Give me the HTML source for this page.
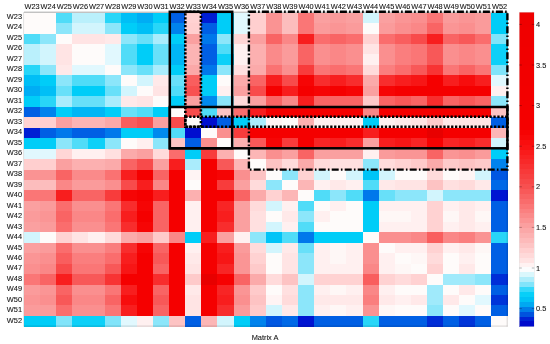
<!DOCTYPE html>
<html><head><meta charset="utf-8"><style>
html,body{margin:0;padding:0;background:#fff;width:550px;height:344px;overflow:hidden}
svg{display:block}
text{font-family:"Liberation Sans",Arial,sans-serif;fill:#111;stroke:#111;stroke-width:0.08px}
</style></head><body>
<svg width="550" height="344" viewBox="0 0 550 344">
<rect width="550" height="344" fill="#fff"/>
<g>
<g shape-rendering="crispEdges">
<rect x="24.00" y="12.60" width="16.52" height="10.86" fill="#fefbfa"/>
<rect x="40.12" y="12.60" width="16.52" height="10.86" fill="#fefbfa"/>
<rect x="56.24" y="12.60" width="16.52" height="10.86" fill="#50dcf8"/>
<rect x="72.36" y="12.60" width="16.52" height="10.86" fill="#baf0fc"/>
<rect x="88.48" y="12.60" width="16.52" height="10.86" fill="#baf0fc"/>
<rect x="104.60" y="12.60" width="16.52" height="10.86" fill="#28d6f8"/>
<rect x="120.72" y="12.60" width="16.52" height="10.86" fill="#00bff6"/>
<rect x="136.84" y="12.60" width="16.52" height="10.86" fill="#00adf4"/>
<rect x="152.96" y="12.60" width="16.52" height="10.86" fill="#00cdf8"/>
<rect x="169.08" y="12.60" width="16.52" height="10.86" fill="#005fe4"/>
<rect x="185.20" y="12.60" width="16.52" height="10.86" fill="#ffd2d2"/>
<rect x="201.32" y="12.60" width="16.52" height="10.86" fill="#001ed4"/>
<rect x="217.44" y="12.60" width="16.52" height="10.86" fill="#00cdf8"/>
<rect x="233.56" y="12.60" width="16.52" height="10.86" fill="#e1f8fe"/>
<rect x="249.68" y="12.60" width="16.52" height="10.86" fill="#ffcfcf"/>
<rect x="265.80" y="12.60" width="16.52" height="10.86" fill="#fa9393"/>
<rect x="281.92" y="12.60" width="16.52" height="10.86" fill="#fcbdbd"/>
<rect x="298.04" y="12.60" width="16.52" height="10.86" fill="#fa7676"/>
<rect x="314.16" y="12.60" width="16.52" height="10.86" fill="#faa0a0"/>
<rect x="330.28" y="12.60" width="16.52" height="10.86" fill="#fa9b9b"/>
<rect x="346.40" y="12.60" width="16.52" height="10.86" fill="#faa0a0"/>
<rect x="362.52" y="12.60" width="16.52" height="10.86" fill="#d2f5fd"/>
<rect x="378.64" y="12.60" width="16.52" height="10.86" fill="#faa0a0"/>
<rect x="394.76" y="12.60" width="16.52" height="10.86" fill="#fa9595"/>
<rect x="410.88" y="12.60" width="16.52" height="10.86" fill="#fa8f8f"/>
<rect x="427.00" y="12.60" width="16.52" height="10.86" fill="#fa7676"/>
<rect x="443.12" y="12.60" width="16.52" height="10.86" fill="#fa9b9b"/>
<rect x="459.24" y="12.60" width="16.52" height="10.86" fill="#fa9595"/>
<rect x="475.36" y="12.60" width="16.52" height="10.86" fill="#fa9b9b"/>
<rect x="491.48" y="12.60" width="16.52" height="10.86" fill="#00cdf8"/>
<rect x="24.00" y="23.06" width="16.52" height="10.86" fill="#fefbfa"/>
<rect x="40.12" y="23.06" width="16.52" height="10.86" fill="#fefbfa"/>
<rect x="56.24" y="23.06" width="16.52" height="10.86" fill="#8ce6fa"/>
<rect x="72.36" y="23.06" width="16.52" height="10.86" fill="#d2f5fd"/>
<rect x="88.48" y="23.06" width="16.52" height="10.86" fill="#d2f5fd"/>
<rect x="104.60" y="23.06" width="16.52" height="10.86" fill="#8ce6fa"/>
<rect x="120.72" y="23.06" width="16.52" height="10.86" fill="#00cdf8"/>
<rect x="136.84" y="23.06" width="16.52" height="10.86" fill="#00bff6"/>
<rect x="152.96" y="23.06" width="16.52" height="10.86" fill="#28d6f8"/>
<rect x="169.08" y="23.06" width="16.52" height="10.86" fill="#0083ed"/>
<rect x="185.20" y="23.06" width="16.52" height="10.86" fill="#ffcfcf"/>
<rect x="201.32" y="23.06" width="16.52" height="10.86" fill="#005fe4"/>
<rect x="217.44" y="23.06" width="16.52" height="10.86" fill="#00cdf8"/>
<rect x="233.56" y="23.06" width="16.52" height="10.86" fill="#e1f8fe"/>
<rect x="249.68" y="23.06" width="16.52" height="10.86" fill="#ffcfcf"/>
<rect x="265.80" y="23.06" width="16.52" height="10.86" fill="#fa9393"/>
<rect x="281.92" y="23.06" width="16.52" height="10.86" fill="#fcbdbd"/>
<rect x="298.04" y="23.06" width="16.52" height="10.86" fill="#fa7676"/>
<rect x="314.16" y="23.06" width="16.52" height="10.86" fill="#fa9b9b"/>
<rect x="330.28" y="23.06" width="16.52" height="10.86" fill="#fa9595"/>
<rect x="346.40" y="23.06" width="16.52" height="10.86" fill="#fa9b9b"/>
<rect x="362.52" y="23.06" width="16.52" height="10.86" fill="#fefbfa"/>
<rect x="378.64" y="23.06" width="16.52" height="10.86" fill="#fa9b9b"/>
<rect x="394.76" y="23.06" width="16.52" height="10.86" fill="#fa8f8f"/>
<rect x="410.88" y="23.06" width="16.52" height="10.86" fill="#fa8787"/>
<rect x="427.00" y="23.06" width="16.52" height="10.86" fill="#f96464"/>
<rect x="443.12" y="23.06" width="16.52" height="10.86" fill="#fa9595"/>
<rect x="459.24" y="23.06" width="16.52" height="10.86" fill="#fa8f8f"/>
<rect x="475.36" y="23.06" width="16.52" height="10.86" fill="#fa9b9b"/>
<rect x="491.48" y="23.06" width="16.52" height="10.86" fill="#00cdf8"/>
<rect x="24.00" y="33.52" width="16.52" height="10.86" fill="#50dcf8"/>
<rect x="40.12" y="33.52" width="16.52" height="10.86" fill="#8ce6fa"/>
<rect x="56.24" y="33.52" width="16.52" height="10.86" fill="#fefbfa"/>
<rect x="72.36" y="33.52" width="16.52" height="10.86" fill="#ffe4e4"/>
<rect x="88.48" y="33.52" width="16.52" height="10.86" fill="#ffe4e4"/>
<rect x="104.60" y="33.52" width="16.52" height="10.86" fill="#ffe9e9"/>
<rect x="120.72" y="33.52" width="16.52" height="10.86" fill="#8ce6fa"/>
<rect x="136.84" y="33.52" width="16.52" height="10.86" fill="#68e0f9"/>
<rect x="152.96" y="33.52" width="16.52" height="10.86" fill="#aaecfc"/>
<rect x="169.08" y="33.52" width="16.52" height="10.86" fill="#00cdf8"/>
<rect x="185.20" y="33.52" width="16.52" height="10.86" fill="#faa0a0"/>
<rect x="201.32" y="33.52" width="16.52" height="10.86" fill="#0078eb"/>
<rect x="217.44" y="33.52" width="16.52" height="10.86" fill="#8ce6fa"/>
<rect x="233.56" y="33.52" width="16.52" height="10.86" fill="#ffd6d6"/>
<rect x="249.68" y="33.52" width="16.52" height="10.86" fill="#faa0a0"/>
<rect x="265.80" y="33.52" width="16.52" height="10.86" fill="#f96464"/>
<rect x="281.92" y="33.52" width="16.52" height="10.86" fill="#fa8787"/>
<rect x="298.04" y="33.52" width="16.52" height="10.86" fill="#f81e1e"/>
<rect x="314.16" y="33.52" width="16.52" height="10.86" fill="#fa6d6d"/>
<rect x="330.28" y="33.52" width="16.52" height="10.86" fill="#f96464"/>
<rect x="346.40" y="33.52" width="16.52" height="10.86" fill="#fa6d6d"/>
<rect x="362.52" y="33.52" width="16.52" height="10.86" fill="#ffd2d2"/>
<rect x="378.64" y="33.52" width="16.52" height="10.86" fill="#fa6d6d"/>
<rect x="394.76" y="33.52" width="16.52" height="10.86" fill="#f95e5e"/>
<rect x="410.88" y="33.52" width="16.52" height="10.86" fill="#f84b4b"/>
<rect x="427.00" y="33.52" width="16.52" height="10.86" fill="#f81e1e"/>
<rect x="443.12" y="33.52" width="16.52" height="10.86" fill="#f96464"/>
<rect x="459.24" y="33.52" width="16.52" height="10.86" fill="#f85858"/>
<rect x="475.36" y="33.52" width="16.52" height="10.86" fill="#fa6d6d"/>
<rect x="491.48" y="33.52" width="16.52" height="10.86" fill="#80e4fa"/>
<rect x="24.00" y="43.98" width="16.52" height="10.86" fill="#baf0fc"/>
<rect x="40.12" y="43.98" width="16.52" height="10.86" fill="#d2f5fd"/>
<rect x="56.24" y="43.98" width="16.52" height="10.86" fill="#ffe4e4"/>
<rect x="72.36" y="43.98" width="16.52" height="10.86" fill="#fefbfa"/>
<rect x="88.48" y="43.98" width="16.52" height="10.86" fill="#fefbfa"/>
<rect x="104.60" y="43.98" width="16.52" height="10.86" fill="#e1f8fe"/>
<rect x="120.72" y="43.98" width="16.52" height="10.86" fill="#50dcf8"/>
<rect x="136.84" y="43.98" width="16.52" height="10.86" fill="#00cdf8"/>
<rect x="152.96" y="43.98" width="16.52" height="10.86" fill="#68e0f9"/>
<rect x="169.08" y="43.98" width="16.52" height="10.86" fill="#00b6f5"/>
<rect x="185.20" y="43.98" width="16.52" height="10.86" fill="#fcb4b4"/>
<rect x="201.32" y="43.98" width="16.52" height="10.86" fill="#005fe4"/>
<rect x="217.44" y="43.98" width="16.52" height="10.86" fill="#50dcf8"/>
<rect x="233.56" y="43.98" width="16.52" height="10.86" fill="#fff0f0"/>
<rect x="249.68" y="43.98" width="16.52" height="10.86" fill="#fcb0b0"/>
<rect x="265.80" y="43.98" width="16.52" height="10.86" fill="#fa8a8a"/>
<rect x="281.92" y="43.98" width="16.52" height="10.86" fill="#fa9b9b"/>
<rect x="298.04" y="43.98" width="16.52" height="10.86" fill="#f96464"/>
<rect x="314.16" y="43.98" width="16.52" height="10.86" fill="#fa8f8f"/>
<rect x="330.28" y="43.98" width="16.52" height="10.86" fill="#fa8787"/>
<rect x="346.40" y="43.98" width="16.52" height="10.86" fill="#fa8f8f"/>
<rect x="362.52" y="43.98" width="16.52" height="10.86" fill="#ffe4e4"/>
<rect x="378.64" y="43.98" width="16.52" height="10.86" fill="#fa8f8f"/>
<rect x="394.76" y="43.98" width="16.52" height="10.86" fill="#fa7e7e"/>
<rect x="410.88" y="43.98" width="16.52" height="10.86" fill="#fa7676"/>
<rect x="427.00" y="43.98" width="16.52" height="10.86" fill="#f85858"/>
<rect x="443.12" y="43.98" width="16.52" height="10.86" fill="#fa8f8f"/>
<rect x="459.24" y="43.98" width="16.52" height="10.86" fill="#fa8787"/>
<rect x="475.36" y="43.98" width="16.52" height="10.86" fill="#fa8f8f"/>
<rect x="491.48" y="43.98" width="16.52" height="10.86" fill="#0dd0f8"/>
<rect x="24.00" y="54.44" width="16.52" height="10.86" fill="#baf0fc"/>
<rect x="40.12" y="54.44" width="16.52" height="10.86" fill="#d2f5fd"/>
<rect x="56.24" y="54.44" width="16.52" height="10.86" fill="#ffe4e4"/>
<rect x="72.36" y="54.44" width="16.52" height="10.86" fill="#fefbfa"/>
<rect x="88.48" y="54.44" width="16.52" height="10.86" fill="#fefbfa"/>
<rect x="104.60" y="54.44" width="16.52" height="10.86" fill="#e1f8fe"/>
<rect x="120.72" y="54.44" width="16.52" height="10.86" fill="#50dcf8"/>
<rect x="136.84" y="54.44" width="16.52" height="10.86" fill="#00cdf8"/>
<rect x="152.96" y="54.44" width="16.52" height="10.86" fill="#68e0f9"/>
<rect x="169.08" y="54.44" width="16.52" height="10.86" fill="#00b6f5"/>
<rect x="185.20" y="54.44" width="16.52" height="10.86" fill="#fcb4b4"/>
<rect x="201.32" y="54.44" width="16.52" height="10.86" fill="#005fe4"/>
<rect x="217.44" y="54.44" width="16.52" height="10.86" fill="#0dd0f8"/>
<rect x="233.56" y="54.44" width="16.52" height="10.86" fill="#fff0f0"/>
<rect x="249.68" y="54.44" width="16.52" height="10.86" fill="#fcb0b0"/>
<rect x="265.80" y="54.44" width="16.52" height="10.86" fill="#fa8a8a"/>
<rect x="281.92" y="54.44" width="16.52" height="10.86" fill="#fa9b9b"/>
<rect x="298.04" y="54.44" width="16.52" height="10.86" fill="#f96464"/>
<rect x="314.16" y="54.44" width="16.52" height="10.86" fill="#fa8f8f"/>
<rect x="330.28" y="54.44" width="16.52" height="10.86" fill="#fa8787"/>
<rect x="346.40" y="54.44" width="16.52" height="10.86" fill="#fa8f8f"/>
<rect x="362.52" y="54.44" width="16.52" height="10.86" fill="#fff0f0"/>
<rect x="378.64" y="54.44" width="16.52" height="10.86" fill="#fa8f8f"/>
<rect x="394.76" y="54.44" width="16.52" height="10.86" fill="#fa7e7e"/>
<rect x="410.88" y="54.44" width="16.52" height="10.86" fill="#fa7676"/>
<rect x="427.00" y="54.44" width="16.52" height="10.86" fill="#f85858"/>
<rect x="443.12" y="54.44" width="16.52" height="10.86" fill="#fa8f8f"/>
<rect x="459.24" y="54.44" width="16.52" height="10.86" fill="#fa8787"/>
<rect x="475.36" y="54.44" width="16.52" height="10.86" fill="#fa8f8f"/>
<rect x="491.48" y="54.44" width="16.52" height="10.86" fill="#0dd0f8"/>
<rect x="24.00" y="64.90" width="16.52" height="10.86" fill="#28d6f8"/>
<rect x="40.12" y="64.90" width="16.52" height="10.86" fill="#8ce6fa"/>
<rect x="56.24" y="64.90" width="16.52" height="10.86" fill="#ffe9e9"/>
<rect x="72.36" y="64.90" width="16.52" height="10.86" fill="#e1f8fe"/>
<rect x="88.48" y="64.90" width="16.52" height="10.86" fill="#e1f8fe"/>
<rect x="104.60" y="64.90" width="16.52" height="10.86" fill="#fefbfa"/>
<rect x="120.72" y="64.90" width="16.52" height="10.86" fill="#8ce6fa"/>
<rect x="136.84" y="64.90" width="16.52" height="10.86" fill="#68e0f9"/>
<rect x="152.96" y="64.90" width="16.52" height="10.86" fill="#aaecfc"/>
<rect x="169.08" y="64.90" width="16.52" height="10.86" fill="#00cdf8"/>
<rect x="185.20" y="64.90" width="16.52" height="10.86" fill="#fba8a8"/>
<rect x="201.32" y="64.90" width="16.52" height="10.86" fill="#0078eb"/>
<rect x="217.44" y="64.90" width="16.52" height="10.86" fill="#8ce6fa"/>
<rect x="233.56" y="64.90" width="16.52" height="10.86" fill="#ffe0e0"/>
<rect x="249.68" y="64.90" width="16.52" height="10.86" fill="#fbaaaa"/>
<rect x="265.80" y="64.90" width="16.52" height="10.86" fill="#fa7272"/>
<rect x="281.92" y="64.90" width="16.52" height="10.86" fill="#fa8f8f"/>
<rect x="298.04" y="64.90" width="16.52" height="10.86" fill="#f83c3c"/>
<rect x="314.16" y="64.90" width="16.52" height="10.86" fill="#fa7676"/>
<rect x="330.28" y="64.90" width="16.52" height="10.86" fill="#fa6d6d"/>
<rect x="346.40" y="64.90" width="16.52" height="10.86" fill="#fa7676"/>
<rect x="362.52" y="64.90" width="16.52" height="10.86" fill="#ffdbdb"/>
<rect x="378.64" y="64.90" width="16.52" height="10.86" fill="#fa7e7e"/>
<rect x="394.76" y="64.90" width="16.52" height="10.86" fill="#fa6d6d"/>
<rect x="410.88" y="64.90" width="16.52" height="10.86" fill="#f85858"/>
<rect x="427.00" y="64.90" width="16.52" height="10.86" fill="#f83434"/>
<rect x="443.12" y="64.90" width="16.52" height="10.86" fill="#fa7676"/>
<rect x="459.24" y="64.90" width="16.52" height="10.86" fill="#f96464"/>
<rect x="475.36" y="64.90" width="16.52" height="10.86" fill="#fa7676"/>
<rect x="491.48" y="64.90" width="16.52" height="10.86" fill="#80e4fa"/>
<rect x="24.00" y="75.36" width="16.52" height="10.86" fill="#00bff6"/>
<rect x="40.12" y="75.36" width="16.52" height="10.86" fill="#00cdf8"/>
<rect x="56.24" y="75.36" width="16.52" height="10.86" fill="#8ce6fa"/>
<rect x="72.36" y="75.36" width="16.52" height="10.86" fill="#50dcf8"/>
<rect x="88.48" y="75.36" width="16.52" height="10.86" fill="#50dcf8"/>
<rect x="104.60" y="75.36" width="16.52" height="10.86" fill="#8ce6fa"/>
<rect x="120.72" y="75.36" width="16.52" height="10.86" fill="#fefbfa"/>
<rect x="136.84" y="75.36" width="16.52" height="10.86" fill="#d2f5fd"/>
<rect x="152.96" y="75.36" width="16.52" height="10.86" fill="#ffe9e9"/>
<rect x="169.08" y="75.36" width="16.52" height="10.86" fill="#68e0f9"/>
<rect x="185.20" y="75.36" width="16.52" height="10.86" fill="#f95e5e"/>
<rect x="201.32" y="75.36" width="16.52" height="10.86" fill="#00cdf8"/>
<rect x="217.44" y="75.36" width="16.52" height="10.86" fill="#fefbfa"/>
<rect x="233.56" y="75.36" width="16.52" height="10.86" fill="#fbaaaa"/>
<rect x="249.68" y="75.36" width="16.52" height="10.86" fill="#f96464"/>
<rect x="265.80" y="75.36" width="16.52" height="10.86" fill="#f81e1e"/>
<rect x="281.92" y="75.36" width="16.52" height="10.86" fill="#f84b4b"/>
<rect x="298.04" y="75.36" width="16.52" height="10.86" fill="#f60505"/>
<rect x="314.16" y="75.36" width="16.52" height="10.86" fill="#f82d2d"/>
<rect x="330.28" y="75.36" width="16.52" height="10.86" fill="#f81e1e"/>
<rect x="346.40" y="75.36" width="16.52" height="10.86" fill="#f82d2d"/>
<rect x="362.52" y="75.36" width="16.52" height="10.86" fill="#fbaaaa"/>
<rect x="378.64" y="75.36" width="16.52" height="10.86" fill="#f82d2d"/>
<rect x="394.76" y="75.36" width="16.52" height="10.86" fill="#f81e1e"/>
<rect x="410.88" y="75.36" width="16.52" height="10.86" fill="#f71616"/>
<rect x="427.00" y="75.36" width="16.52" height="10.86" fill="#f50000"/>
<rect x="443.12" y="75.36" width="16.52" height="10.86" fill="#f81e1e"/>
<rect x="459.24" y="75.36" width="16.52" height="10.86" fill="#f70d0d"/>
<rect x="475.36" y="75.36" width="16.52" height="10.86" fill="#f81e1e"/>
<rect x="491.48" y="75.36" width="16.52" height="10.86" fill="#e1f8fe"/>
<rect x="24.00" y="85.82" width="16.52" height="10.86" fill="#00adf4"/>
<rect x="40.12" y="85.82" width="16.52" height="10.86" fill="#00bff6"/>
<rect x="56.24" y="85.82" width="16.52" height="10.86" fill="#68e0f9"/>
<rect x="72.36" y="85.82" width="16.52" height="10.86" fill="#00cdf8"/>
<rect x="88.48" y="85.82" width="16.52" height="10.86" fill="#00cdf8"/>
<rect x="104.60" y="85.82" width="16.52" height="10.86" fill="#68e0f9"/>
<rect x="120.72" y="85.82" width="16.52" height="10.86" fill="#d2f5fd"/>
<rect x="136.84" y="85.82" width="16.52" height="10.86" fill="#fefbfa"/>
<rect x="152.96" y="85.82" width="16.52" height="10.86" fill="#ffe4e4"/>
<rect x="169.08" y="85.82" width="16.52" height="10.86" fill="#50dcf8"/>
<rect x="185.20" y="85.82" width="16.52" height="10.86" fill="#f85151"/>
<rect x="201.32" y="85.82" width="16.52" height="10.86" fill="#00cdf8"/>
<rect x="217.44" y="85.82" width="16.52" height="10.86" fill="#fff0f0"/>
<rect x="233.56" y="85.82" width="16.52" height="10.86" fill="#faa0a0"/>
<rect x="249.68" y="85.82" width="16.52" height="10.86" fill="#f84b4b"/>
<rect x="265.80" y="85.82" width="16.52" height="10.86" fill="#f50000"/>
<rect x="281.92" y="85.82" width="16.52" height="10.86" fill="#f81e1e"/>
<rect x="298.04" y="85.82" width="16.52" height="10.86" fill="#f50000"/>
<rect x="314.16" y="85.82" width="16.52" height="10.86" fill="#f60505"/>
<rect x="330.28" y="85.82" width="16.52" height="10.86" fill="#f50000"/>
<rect x="346.40" y="85.82" width="16.52" height="10.86" fill="#f60505"/>
<rect x="362.52" y="85.82" width="16.52" height="10.86" fill="#faa0a0"/>
<rect x="378.64" y="85.82" width="16.52" height="10.86" fill="#f60505"/>
<rect x="394.76" y="85.82" width="16.52" height="10.86" fill="#f50000"/>
<rect x="410.88" y="85.82" width="16.52" height="10.86" fill="#f50000"/>
<rect x="427.00" y="85.82" width="16.52" height="10.86" fill="#f50000"/>
<rect x="443.12" y="85.82" width="16.52" height="10.86" fill="#f50000"/>
<rect x="459.24" y="85.82" width="16.52" height="10.86" fill="#f50000"/>
<rect x="475.36" y="85.82" width="16.52" height="10.86" fill="#f50000"/>
<rect x="491.48" y="85.82" width="16.52" height="10.86" fill="#fff0f0"/>
<rect x="24.00" y="96.28" width="16.52" height="10.86" fill="#00cdf8"/>
<rect x="40.12" y="96.28" width="16.52" height="10.86" fill="#28d6f8"/>
<rect x="56.24" y="96.28" width="16.52" height="10.86" fill="#aaecfc"/>
<rect x="72.36" y="96.28" width="16.52" height="10.86" fill="#68e0f9"/>
<rect x="88.48" y="96.28" width="16.52" height="10.86" fill="#68e0f9"/>
<rect x="104.60" y="96.28" width="16.52" height="10.86" fill="#aaecfc"/>
<rect x="120.72" y="96.28" width="16.52" height="10.86" fill="#ffe9e9"/>
<rect x="136.84" y="96.28" width="16.52" height="10.86" fill="#ffe4e4"/>
<rect x="152.96" y="96.28" width="16.52" height="10.86" fill="#fefbfa"/>
<rect x="169.08" y="96.28" width="16.52" height="10.86" fill="#00cdf8"/>
<rect x="185.20" y="96.28" width="16.52" height="10.86" fill="#faa0a0"/>
<rect x="201.32" y="96.28" width="16.52" height="10.86" fill="#008aee"/>
<rect x="217.44" y="96.28" width="16.52" height="10.86" fill="#8ce6fa"/>
<rect x="233.56" y="96.28" width="16.52" height="10.86" fill="#ffdbdb"/>
<rect x="249.68" y="96.28" width="16.52" height="10.86" fill="#faa0a0"/>
<rect x="265.80" y="96.28" width="16.52" height="10.86" fill="#f96464"/>
<rect x="281.92" y="96.28" width="16.52" height="10.86" fill="#fa8787"/>
<rect x="298.04" y="96.28" width="16.52" height="10.86" fill="#f81e1e"/>
<rect x="314.16" y="96.28" width="16.52" height="10.86" fill="#f96464"/>
<rect x="330.28" y="96.28" width="16.52" height="10.86" fill="#f96464"/>
<rect x="346.40" y="96.28" width="16.52" height="10.86" fill="#f96464"/>
<rect x="362.52" y="96.28" width="16.52" height="10.86" fill="#fecaca"/>
<rect x="378.64" y="96.28" width="16.52" height="10.86" fill="#f96464"/>
<rect x="394.76" y="96.28" width="16.52" height="10.86" fill="#f85858"/>
<rect x="410.88" y="96.28" width="16.52" height="10.86" fill="#f96464"/>
<rect x="427.00" y="96.28" width="16.52" height="10.86" fill="#f82d2d"/>
<rect x="443.12" y="96.28" width="16.52" height="10.86" fill="#f96464"/>
<rect x="459.24" y="96.28" width="16.52" height="10.86" fill="#f85858"/>
<rect x="475.36" y="96.28" width="16.52" height="10.86" fill="#f96464"/>
<rect x="491.48" y="96.28" width="16.52" height="10.86" fill="#8ce6fa"/>
<rect x="24.00" y="106.74" width="16.52" height="10.86" fill="#005fe4"/>
<rect x="40.12" y="106.74" width="16.52" height="10.86" fill="#0083ed"/>
<rect x="56.24" y="106.74" width="16.52" height="10.86" fill="#00cdf8"/>
<rect x="72.36" y="106.74" width="16.52" height="10.86" fill="#00b6f5"/>
<rect x="88.48" y="106.74" width="16.52" height="10.86" fill="#00b6f5"/>
<rect x="104.60" y="106.74" width="16.52" height="10.86" fill="#00cdf8"/>
<rect x="120.72" y="106.74" width="16.52" height="10.86" fill="#68e0f9"/>
<rect x="136.84" y="106.74" width="16.52" height="10.86" fill="#50dcf8"/>
<rect x="152.96" y="106.74" width="16.52" height="10.86" fill="#00cdf8"/>
<rect x="169.08" y="106.74" width="16.52" height="10.86" fill="#fefbfa"/>
<rect x="185.20" y="106.74" width="16.52" height="10.86" fill="#f84b4b"/>
<rect x="201.32" y="106.74" width="16.52" height="10.86" fill="#50dcf8"/>
<rect x="217.44" y="106.74" width="16.52" height="10.86" fill="#fdc3c3"/>
<rect x="233.56" y="106.74" width="16.52" height="10.86" fill="#fa6d6d"/>
<rect x="249.68" y="106.74" width="16.52" height="10.86" fill="#f81e1e"/>
<rect x="265.80" y="106.74" width="16.52" height="10.86" fill="#f50000"/>
<rect x="281.92" y="106.74" width="16.52" height="10.86" fill="#f50000"/>
<rect x="298.04" y="106.74" width="16.52" height="10.86" fill="#f50000"/>
<rect x="314.16" y="106.74" width="16.52" height="10.86" fill="#f50000"/>
<rect x="330.28" y="106.74" width="16.52" height="10.86" fill="#f50000"/>
<rect x="346.40" y="106.74" width="16.52" height="10.86" fill="#f50000"/>
<rect x="362.52" y="106.74" width="16.52" height="10.86" fill="#fa8787"/>
<rect x="378.64" y="106.74" width="16.52" height="10.86" fill="#f50000"/>
<rect x="394.76" y="106.74" width="16.52" height="10.86" fill="#f50000"/>
<rect x="410.88" y="106.74" width="16.52" height="10.86" fill="#f50000"/>
<rect x="427.00" y="106.74" width="16.52" height="10.86" fill="#f50000"/>
<rect x="443.12" y="106.74" width="16.52" height="10.86" fill="#f50000"/>
<rect x="459.24" y="106.74" width="16.52" height="10.86" fill="#f50000"/>
<rect x="475.36" y="106.74" width="16.52" height="10.86" fill="#f50000"/>
<rect x="491.48" y="106.74" width="16.52" height="10.86" fill="#fdc3c3"/>
<rect x="24.00" y="117.20" width="16.52" height="10.86" fill="#ffd2d2"/>
<rect x="40.12" y="117.20" width="16.52" height="10.86" fill="#ffcfcf"/>
<rect x="56.24" y="117.20" width="16.52" height="10.86" fill="#faa0a0"/>
<rect x="72.36" y="117.20" width="16.52" height="10.86" fill="#fcb4b4"/>
<rect x="88.48" y="117.20" width="16.52" height="10.86" fill="#fcb4b4"/>
<rect x="104.60" y="117.20" width="16.52" height="10.86" fill="#fba8a8"/>
<rect x="120.72" y="117.20" width="16.52" height="10.86" fill="#f95e5e"/>
<rect x="136.84" y="117.20" width="16.52" height="10.86" fill="#f85151"/>
<rect x="152.96" y="117.20" width="16.52" height="10.86" fill="#faa0a0"/>
<rect x="169.08" y="117.20" width="16.52" height="10.86" fill="#f84b4b"/>
<rect x="185.20" y="117.20" width="16.52" height="10.86" fill="#fefbfa"/>
<rect x="201.32" y="117.20" width="16.52" height="10.86" fill="#000ecf"/>
<rect x="217.44" y="117.20" width="16.52" height="10.86" fill="#005fe4"/>
<rect x="233.56" y="117.20" width="16.52" height="10.86" fill="#00cdf8"/>
<rect x="249.68" y="117.20" width="16.52" height="10.86" fill="#aaecfc"/>
<rect x="265.80" y="117.20" width="16.52" height="10.86" fill="#fff4f4"/>
<rect x="281.92" y="117.20" width="16.52" height="10.86" fill="#fefbfa"/>
<rect x="298.04" y="117.20" width="16.52" height="10.86" fill="#fcb0b0"/>
<rect x="314.16" y="117.20" width="16.52" height="10.86" fill="#fff0f0"/>
<rect x="330.28" y="117.20" width="16.52" height="10.86" fill="#fff0f0"/>
<rect x="346.40" y="117.20" width="16.52" height="10.86" fill="#fff0f0"/>
<rect x="362.52" y="117.20" width="16.52" height="10.86" fill="#00cdf8"/>
<rect x="378.64" y="117.20" width="16.52" height="10.86" fill="#fff0f0"/>
<rect x="394.76" y="117.20" width="16.52" height="10.86" fill="#ffe9e9"/>
<rect x="410.88" y="117.20" width="16.52" height="10.86" fill="#ffe4e4"/>
<rect x="427.00" y="117.20" width="16.52" height="10.86" fill="#fecaca"/>
<rect x="443.12" y="117.20" width="16.52" height="10.86" fill="#ffe9e9"/>
<rect x="459.24" y="117.20" width="16.52" height="10.86" fill="#ffe4e4"/>
<rect x="475.36" y="117.20" width="16.52" height="10.86" fill="#ffe4e4"/>
<rect x="491.48" y="117.20" width="16.52" height="10.86" fill="#005fe4"/>
<rect x="24.00" y="127.66" width="16.52" height="10.86" fill="#001ed4"/>
<rect x="40.12" y="127.66" width="16.52" height="10.86" fill="#005fe4"/>
<rect x="56.24" y="127.66" width="16.52" height="10.86" fill="#0078eb"/>
<rect x="72.36" y="127.66" width="16.52" height="10.86" fill="#005fe4"/>
<rect x="88.48" y="127.66" width="16.52" height="10.86" fill="#005fe4"/>
<rect x="104.60" y="127.66" width="16.52" height="10.86" fill="#0078eb"/>
<rect x="120.72" y="127.66" width="16.52" height="10.86" fill="#00cdf8"/>
<rect x="136.84" y="127.66" width="16.52" height="10.86" fill="#00cdf8"/>
<rect x="152.96" y="127.66" width="16.52" height="10.86" fill="#008aee"/>
<rect x="169.08" y="127.66" width="16.52" height="10.86" fill="#50dcf8"/>
<rect x="185.20" y="127.66" width="16.52" height="10.86" fill="#000ecf"/>
<rect x="201.32" y="127.66" width="16.52" height="10.86" fill="#fefbfa"/>
<rect x="217.44" y="127.66" width="16.52" height="10.86" fill="#fa8f8f"/>
<rect x="233.56" y="127.66" width="16.52" height="10.86" fill="#f83c3c"/>
<rect x="249.68" y="127.66" width="16.52" height="10.86" fill="#f50000"/>
<rect x="265.80" y="127.66" width="16.52" height="10.86" fill="#f50000"/>
<rect x="281.92" y="127.66" width="16.52" height="10.86" fill="#f50000"/>
<rect x="298.04" y="127.66" width="16.52" height="10.86" fill="#f50000"/>
<rect x="314.16" y="127.66" width="16.52" height="10.86" fill="#f50000"/>
<rect x="330.28" y="127.66" width="16.52" height="10.86" fill="#f50000"/>
<rect x="346.40" y="127.66" width="16.52" height="10.86" fill="#f50000"/>
<rect x="362.52" y="127.66" width="16.52" height="10.86" fill="#f81e1e"/>
<rect x="378.64" y="127.66" width="16.52" height="10.86" fill="#f50000"/>
<rect x="394.76" y="127.66" width="16.52" height="10.86" fill="#f50000"/>
<rect x="410.88" y="127.66" width="16.52" height="10.86" fill="#f50000"/>
<rect x="427.00" y="127.66" width="16.52" height="10.86" fill="#e80000"/>
<rect x="443.12" y="127.66" width="16.52" height="10.86" fill="#f50000"/>
<rect x="459.24" y="127.66" width="16.52" height="10.86" fill="#f50000"/>
<rect x="475.36" y="127.66" width="16.52" height="10.86" fill="#f50000"/>
<rect x="491.48" y="127.66" width="16.52" height="10.86" fill="#fcb6b6"/>
<rect x="24.00" y="138.12" width="16.52" height="10.86" fill="#00cdf8"/>
<rect x="40.12" y="138.12" width="16.52" height="10.86" fill="#00cdf8"/>
<rect x="56.24" y="138.12" width="16.52" height="10.86" fill="#8ce6fa"/>
<rect x="72.36" y="138.12" width="16.52" height="10.86" fill="#50dcf8"/>
<rect x="88.48" y="138.12" width="16.52" height="10.86" fill="#0dd0f8"/>
<rect x="104.60" y="138.12" width="16.52" height="10.86" fill="#8ce6fa"/>
<rect x="120.72" y="138.12" width="16.52" height="10.86" fill="#fefbfa"/>
<rect x="136.84" y="138.12" width="16.52" height="10.86" fill="#fff0f0"/>
<rect x="152.96" y="138.12" width="16.52" height="10.86" fill="#8ce6fa"/>
<rect x="169.08" y="138.12" width="16.52" height="10.86" fill="#fdc3c3"/>
<rect x="185.20" y="138.12" width="16.52" height="10.86" fill="#005fe4"/>
<rect x="201.32" y="138.12" width="16.52" height="10.86" fill="#fa8f8f"/>
<rect x="217.44" y="138.12" width="16.52" height="10.86" fill="#fefbfa"/>
<rect x="233.56" y="138.12" width="16.52" height="10.86" fill="#fcb0b0"/>
<rect x="249.68" y="138.12" width="16.52" height="10.86" fill="#f85858"/>
<rect x="265.80" y="138.12" width="16.52" height="10.86" fill="#f60505"/>
<rect x="281.92" y="138.12" width="16.52" height="10.86" fill="#f83c3c"/>
<rect x="298.04" y="138.12" width="16.52" height="10.86" fill="#f50000"/>
<rect x="314.16" y="138.12" width="16.52" height="10.86" fill="#f82525"/>
<rect x="330.28" y="138.12" width="16.52" height="10.86" fill="#f81e1e"/>
<rect x="346.40" y="138.12" width="16.52" height="10.86" fill="#f82d2d"/>
<rect x="362.52" y="138.12" width="16.52" height="10.86" fill="#faa0a0"/>
<rect x="378.64" y="138.12" width="16.52" height="10.86" fill="#f81e1e"/>
<rect x="394.76" y="138.12" width="16.52" height="10.86" fill="#f71616"/>
<rect x="410.88" y="138.12" width="16.52" height="10.86" fill="#f82525"/>
<rect x="427.00" y="138.12" width="16.52" height="10.86" fill="#f60202"/>
<rect x="443.12" y="138.12" width="16.52" height="10.86" fill="#f82525"/>
<rect x="459.24" y="138.12" width="16.52" height="10.86" fill="#f81e1e"/>
<rect x="475.36" y="138.12" width="16.52" height="10.86" fill="#f82d2d"/>
<rect x="491.48" y="138.12" width="16.52" height="10.86" fill="#d2f5fd"/>
<rect x="24.00" y="148.58" width="16.52" height="10.86" fill="#e1f8fe"/>
<rect x="40.12" y="148.58" width="16.52" height="10.86" fill="#e1f8fe"/>
<rect x="56.24" y="148.58" width="16.52" height="10.86" fill="#ffd6d6"/>
<rect x="72.36" y="148.58" width="16.52" height="10.86" fill="#fff0f0"/>
<rect x="88.48" y="148.58" width="16.52" height="10.86" fill="#fff0f0"/>
<rect x="104.60" y="148.58" width="16.52" height="10.86" fill="#ffe0e0"/>
<rect x="120.72" y="148.58" width="16.52" height="10.86" fill="#fbaaaa"/>
<rect x="136.84" y="148.58" width="16.52" height="10.86" fill="#faa0a0"/>
<rect x="152.96" y="148.58" width="16.52" height="10.86" fill="#ffdbdb"/>
<rect x="169.08" y="148.58" width="16.52" height="10.86" fill="#fa6d6d"/>
<rect x="185.20" y="148.58" width="16.52" height="10.86" fill="#00cdf8"/>
<rect x="201.32" y="148.58" width="16.52" height="10.86" fill="#f83c3c"/>
<rect x="217.44" y="148.58" width="16.52" height="10.86" fill="#fcb0b0"/>
<rect x="233.56" y="148.58" width="16.52" height="10.86" fill="#fefbfa"/>
<rect x="249.68" y="148.58" width="16.52" height="10.86" fill="#fcb6b6"/>
<rect x="265.80" y="148.58" width="16.52" height="10.86" fill="#fa8f8f"/>
<rect x="281.92" y="148.58" width="16.52" height="10.86" fill="#faa0a0"/>
<rect x="298.04" y="148.58" width="16.52" height="10.86" fill="#f96464"/>
<rect x="314.16" y="148.58" width="16.52" height="10.86" fill="#faa0a0"/>
<rect x="330.28" y="148.58" width="16.52" height="10.86" fill="#faa0a0"/>
<rect x="346.40" y="148.58" width="16.52" height="10.86" fill="#faa0a0"/>
<rect x="362.52" y="148.58" width="16.52" height="10.86" fill="#fff0f0"/>
<rect x="378.64" y="148.58" width="16.52" height="10.86" fill="#fa9b9b"/>
<rect x="394.76" y="148.58" width="16.52" height="10.86" fill="#fa9595"/>
<rect x="410.88" y="148.58" width="16.52" height="10.86" fill="#fa9595"/>
<rect x="427.00" y="148.58" width="16.52" height="10.86" fill="#f96464"/>
<rect x="443.12" y="148.58" width="16.52" height="10.86" fill="#fa9595"/>
<rect x="459.24" y="148.58" width="16.52" height="10.86" fill="#fa8f8f"/>
<rect x="475.36" y="148.58" width="16.52" height="10.86" fill="#fa9b9b"/>
<rect x="491.48" y="148.58" width="16.52" height="10.86" fill="#00cdf8"/>
<rect x="24.00" y="159.04" width="16.52" height="10.86" fill="#ffcfcf"/>
<rect x="40.12" y="159.04" width="16.52" height="10.86" fill="#ffcfcf"/>
<rect x="56.24" y="159.04" width="16.52" height="10.86" fill="#faa0a0"/>
<rect x="72.36" y="159.04" width="16.52" height="10.86" fill="#fcb0b0"/>
<rect x="88.48" y="159.04" width="16.52" height="10.86" fill="#fcb0b0"/>
<rect x="104.60" y="159.04" width="16.52" height="10.86" fill="#fbaaaa"/>
<rect x="120.72" y="159.04" width="16.52" height="10.86" fill="#f96464"/>
<rect x="136.84" y="159.04" width="16.52" height="10.86" fill="#f84b4b"/>
<rect x="152.96" y="159.04" width="16.52" height="10.86" fill="#faa0a0"/>
<rect x="169.08" y="159.04" width="16.52" height="10.86" fill="#f81e1e"/>
<rect x="185.20" y="159.04" width="16.52" height="10.86" fill="#aaecfc"/>
<rect x="201.32" y="159.04" width="16.52" height="10.86" fill="#f50000"/>
<rect x="217.44" y="159.04" width="16.52" height="10.86" fill="#f85858"/>
<rect x="233.56" y="159.04" width="16.52" height="10.86" fill="#fcb6b6"/>
<rect x="249.68" y="159.04" width="16.52" height="10.86" fill="#fefbfa"/>
<rect x="265.80" y="159.04" width="16.52" height="10.86" fill="#fdc3c3"/>
<rect x="281.92" y="159.04" width="16.52" height="10.86" fill="#ffdbdb"/>
<rect x="298.04" y="159.04" width="16.52" height="10.86" fill="#fbaaaa"/>
<rect x="314.16" y="159.04" width="16.52" height="10.86" fill="#ffdbdb"/>
<rect x="330.28" y="159.04" width="16.52" height="10.86" fill="#ffe0e0"/>
<rect x="346.40" y="159.04" width="16.52" height="10.86" fill="#ffe0e0"/>
<rect x="362.52" y="159.04" width="16.52" height="10.86" fill="#8ce6fa"/>
<rect x="378.64" y="159.04" width="16.52" height="10.86" fill="#ffdbdb"/>
<rect x="394.76" y="159.04" width="16.52" height="10.86" fill="#ffd2d2"/>
<rect x="410.88" y="159.04" width="16.52" height="10.86" fill="#fecaca"/>
<rect x="427.00" y="159.04" width="16.52" height="10.86" fill="#fbaaaa"/>
<rect x="443.12" y="159.04" width="16.52" height="10.86" fill="#fecaca"/>
<rect x="459.24" y="159.04" width="16.52" height="10.86" fill="#fdc3c3"/>
<rect x="475.36" y="159.04" width="16.52" height="10.86" fill="#fecaca"/>
<rect x="491.48" y="159.04" width="16.52" height="10.86" fill="#0083ed"/>
<rect x="24.00" y="169.50" width="16.52" height="10.86" fill="#fa9393"/>
<rect x="40.12" y="169.50" width="16.52" height="10.86" fill="#fa9393"/>
<rect x="56.24" y="169.50" width="16.52" height="10.86" fill="#f96464"/>
<rect x="72.36" y="169.50" width="16.52" height="10.86" fill="#fa8a8a"/>
<rect x="88.48" y="169.50" width="16.52" height="10.86" fill="#fa8a8a"/>
<rect x="104.60" y="169.50" width="16.52" height="10.86" fill="#fa7272"/>
<rect x="120.72" y="169.50" width="16.52" height="10.86" fill="#f81e1e"/>
<rect x="136.84" y="169.50" width="16.52" height="10.86" fill="#f50000"/>
<rect x="152.96" y="169.50" width="16.52" height="10.86" fill="#f96464"/>
<rect x="169.08" y="169.50" width="16.52" height="10.86" fill="#f50000"/>
<rect x="185.20" y="169.50" width="16.52" height="10.86" fill="#fff4f4"/>
<rect x="201.32" y="169.50" width="16.52" height="10.86" fill="#f50000"/>
<rect x="217.44" y="169.50" width="16.52" height="10.86" fill="#f60505"/>
<rect x="233.56" y="169.50" width="16.52" height="10.86" fill="#fa8f8f"/>
<rect x="249.68" y="169.50" width="16.52" height="10.86" fill="#fdc3c3"/>
<rect x="265.80" y="169.50" width="16.52" height="10.86" fill="#fefbfa"/>
<rect x="281.92" y="169.50" width="16.52" height="10.86" fill="#8ce6fa"/>
<rect x="298.04" y="169.50" width="16.52" height="10.86" fill="#ffd2d2"/>
<rect x="314.16" y="169.50" width="16.52" height="10.86" fill="#d2f5fd"/>
<rect x="330.28" y="169.50" width="16.52" height="10.86" fill="#fefbfa"/>
<rect x="346.40" y="169.50" width="16.52" height="10.86" fill="#d2f5fd"/>
<rect x="362.52" y="169.50" width="16.52" height="10.86" fill="#00c4f7"/>
<rect x="378.64" y="169.50" width="16.52" height="10.86" fill="#d2f5fd"/>
<rect x="394.76" y="169.50" width="16.52" height="10.86" fill="#fefbfa"/>
<rect x="410.88" y="169.50" width="16.52" height="10.86" fill="#fefbfa"/>
<rect x="427.00" y="169.50" width="16.52" height="10.86" fill="#ffdbdb"/>
<rect x="443.12" y="169.50" width="16.52" height="10.86" fill="#fefbfa"/>
<rect x="459.24" y="169.50" width="16.52" height="10.86" fill="#fff4f4"/>
<rect x="475.36" y="169.50" width="16.52" height="10.86" fill="#d2f5fd"/>
<rect x="491.48" y="169.50" width="16.52" height="10.86" fill="#0057e2"/>
<rect x="24.00" y="179.96" width="16.52" height="10.86" fill="#fcbdbd"/>
<rect x="40.12" y="179.96" width="16.52" height="10.86" fill="#fcbdbd"/>
<rect x="56.24" y="179.96" width="16.52" height="10.86" fill="#fa8787"/>
<rect x="72.36" y="179.96" width="16.52" height="10.86" fill="#fa9b9b"/>
<rect x="88.48" y="179.96" width="16.52" height="10.86" fill="#fa9b9b"/>
<rect x="104.60" y="179.96" width="16.52" height="10.86" fill="#fa8f8f"/>
<rect x="120.72" y="179.96" width="16.52" height="10.86" fill="#f84b4b"/>
<rect x="136.84" y="179.96" width="16.52" height="10.86" fill="#f81e1e"/>
<rect x="152.96" y="179.96" width="16.52" height="10.86" fill="#fa8787"/>
<rect x="169.08" y="179.96" width="16.52" height="10.86" fill="#f50000"/>
<rect x="185.20" y="179.96" width="16.52" height="10.86" fill="#fefbfa"/>
<rect x="201.32" y="179.96" width="16.52" height="10.86" fill="#f50000"/>
<rect x="217.44" y="179.96" width="16.52" height="10.86" fill="#f83c3c"/>
<rect x="233.56" y="179.96" width="16.52" height="10.86" fill="#faa0a0"/>
<rect x="249.68" y="179.96" width="16.52" height="10.86" fill="#ffdbdb"/>
<rect x="265.80" y="179.96" width="16.52" height="10.86" fill="#8ce6fa"/>
<rect x="281.92" y="179.96" width="16.52" height="10.86" fill="#fefbfa"/>
<rect x="298.04" y="179.96" width="16.52" height="10.86" fill="#fcb6b6"/>
<rect x="314.16" y="179.96" width="16.52" height="10.86" fill="#fff0f0"/>
<rect x="330.28" y="179.96" width="16.52" height="10.86" fill="#ffe9e9"/>
<rect x="346.40" y="179.96" width="16.52" height="10.86" fill="#fff0f0"/>
<rect x="362.52" y="179.96" width="16.52" height="10.86" fill="#50dcf8"/>
<rect x="378.64" y="179.96" width="16.52" height="10.86" fill="#ffe9e9"/>
<rect x="394.76" y="179.96" width="16.52" height="10.86" fill="#ffe4e4"/>
<rect x="410.88" y="179.96" width="16.52" height="10.86" fill="#ffe4e4"/>
<rect x="427.00" y="179.96" width="16.52" height="10.86" fill="#fdc3c3"/>
<rect x="443.12" y="179.96" width="16.52" height="10.86" fill="#ffe0e0"/>
<rect x="459.24" y="179.96" width="16.52" height="10.86" fill="#ffdbdb"/>
<rect x="475.36" y="179.96" width="16.52" height="10.86" fill="#ffe9e9"/>
<rect x="491.48" y="179.96" width="16.52" height="10.86" fill="#0069e7"/>
<rect x="24.00" y="190.42" width="16.52" height="10.86" fill="#fa7676"/>
<rect x="40.12" y="190.42" width="16.52" height="10.86" fill="#fa7676"/>
<rect x="56.24" y="190.42" width="16.52" height="10.86" fill="#f81e1e"/>
<rect x="72.36" y="190.42" width="16.52" height="10.86" fill="#f96464"/>
<rect x="88.48" y="190.42" width="16.52" height="10.86" fill="#f96464"/>
<rect x="104.60" y="190.42" width="16.52" height="10.86" fill="#f83c3c"/>
<rect x="120.72" y="190.42" width="16.52" height="10.86" fill="#f60505"/>
<rect x="136.84" y="190.42" width="16.52" height="10.86" fill="#f50000"/>
<rect x="152.96" y="190.42" width="16.52" height="10.86" fill="#f81e1e"/>
<rect x="169.08" y="190.42" width="16.52" height="10.86" fill="#f50000"/>
<rect x="185.20" y="190.42" width="16.52" height="10.86" fill="#fcb0b0"/>
<rect x="201.32" y="190.42" width="16.52" height="10.86" fill="#f50000"/>
<rect x="217.44" y="190.42" width="16.52" height="10.86" fill="#f50000"/>
<rect x="233.56" y="190.42" width="16.52" height="10.86" fill="#f96464"/>
<rect x="249.68" y="190.42" width="16.52" height="10.86" fill="#fbaaaa"/>
<rect x="265.80" y="190.42" width="16.52" height="10.86" fill="#ffd2d2"/>
<rect x="281.92" y="190.42" width="16.52" height="10.86" fill="#fcb6b6"/>
<rect x="298.04" y="190.42" width="16.52" height="10.86" fill="#fefbfa"/>
<rect x="314.16" y="190.42" width="16.52" height="10.86" fill="#50dcf8"/>
<rect x="330.28" y="190.42" width="16.52" height="10.86" fill="#8ce6fa"/>
<rect x="346.40" y="190.42" width="16.52" height="10.86" fill="#50dcf8"/>
<rect x="362.52" y="190.42" width="16.52" height="10.86" fill="#0078eb"/>
<rect x="378.64" y="190.42" width="16.52" height="10.86" fill="#68e0f9"/>
<rect x="394.76" y="190.42" width="16.52" height="10.86" fill="#8ce6fa"/>
<rect x="410.88" y="190.42" width="16.52" height="10.86" fill="#8ce6fa"/>
<rect x="427.00" y="190.42" width="16.52" height="10.86" fill="#d2f5fd"/>
<rect x="443.12" y="190.42" width="16.52" height="10.86" fill="#8ce6fa"/>
<rect x="459.24" y="190.42" width="16.52" height="10.86" fill="#8ce6fa"/>
<rect x="475.36" y="190.42" width="16.52" height="10.86" fill="#8ce6fa"/>
<rect x="491.48" y="190.42" width="16.52" height="10.86" fill="#0014d2"/>
<rect x="24.00" y="200.88" width="16.52" height="10.86" fill="#faa0a0"/>
<rect x="40.12" y="200.88" width="16.52" height="10.86" fill="#fa9b9b"/>
<rect x="56.24" y="200.88" width="16.52" height="10.86" fill="#fa6d6d"/>
<rect x="72.36" y="200.88" width="16.52" height="10.86" fill="#fa8f8f"/>
<rect x="88.48" y="200.88" width="16.52" height="10.86" fill="#fa8f8f"/>
<rect x="104.60" y="200.88" width="16.52" height="10.86" fill="#fa7676"/>
<rect x="120.72" y="200.88" width="16.52" height="10.86" fill="#f82d2d"/>
<rect x="136.84" y="200.88" width="16.52" height="10.86" fill="#f60505"/>
<rect x="152.96" y="200.88" width="16.52" height="10.86" fill="#f96464"/>
<rect x="169.08" y="200.88" width="16.52" height="10.86" fill="#f50000"/>
<rect x="185.20" y="200.88" width="16.52" height="10.86" fill="#fff0f0"/>
<rect x="201.32" y="200.88" width="16.52" height="10.86" fill="#f50000"/>
<rect x="217.44" y="200.88" width="16.52" height="10.86" fill="#f82525"/>
<rect x="233.56" y="200.88" width="16.52" height="10.86" fill="#faa0a0"/>
<rect x="249.68" y="200.88" width="16.52" height="10.86" fill="#ffdbdb"/>
<rect x="265.80" y="200.88" width="16.52" height="10.86" fill="#d2f5fd"/>
<rect x="281.92" y="200.88" width="16.52" height="10.86" fill="#fff0f0"/>
<rect x="298.04" y="200.88" width="16.52" height="10.86" fill="#50dcf8"/>
<rect x="314.16" y="200.88" width="16.52" height="10.86" fill="#fefbfa"/>
<rect x="330.28" y="200.88" width="16.52" height="10.86" fill="#fff0f0"/>
<rect x="346.40" y="200.88" width="16.52" height="10.86" fill="#fefbfa"/>
<rect x="362.52" y="200.88" width="16.52" height="10.86" fill="#00cdf8"/>
<rect x="378.64" y="200.88" width="16.52" height="10.86" fill="#fff0f0"/>
<rect x="394.76" y="200.88" width="16.52" height="10.86" fill="#fff0f0"/>
<rect x="410.88" y="200.88" width="16.52" height="10.86" fill="#fff0f0"/>
<rect x="427.00" y="200.88" width="16.52" height="10.86" fill="#ffd2d2"/>
<rect x="443.12" y="200.88" width="16.52" height="10.86" fill="#fff0f0"/>
<rect x="459.24" y="200.88" width="16.52" height="10.86" fill="#ffe9e9"/>
<rect x="475.36" y="200.88" width="16.52" height="10.86" fill="#fff0f0"/>
<rect x="491.48" y="200.88" width="16.52" height="10.86" fill="#005fe4"/>
<rect x="24.00" y="211.34" width="16.52" height="10.86" fill="#fa9b9b"/>
<rect x="40.12" y="211.34" width="16.52" height="10.86" fill="#fa9595"/>
<rect x="56.24" y="211.34" width="16.52" height="10.86" fill="#f96464"/>
<rect x="72.36" y="211.34" width="16.52" height="10.86" fill="#fa8787"/>
<rect x="88.48" y="211.34" width="16.52" height="10.86" fill="#fa8787"/>
<rect x="104.60" y="211.34" width="16.52" height="10.86" fill="#fa6d6d"/>
<rect x="120.72" y="211.34" width="16.52" height="10.86" fill="#f81e1e"/>
<rect x="136.84" y="211.34" width="16.52" height="10.86" fill="#f50000"/>
<rect x="152.96" y="211.34" width="16.52" height="10.86" fill="#f96464"/>
<rect x="169.08" y="211.34" width="16.52" height="10.86" fill="#f50000"/>
<rect x="185.20" y="211.34" width="16.52" height="10.86" fill="#fff0f0"/>
<rect x="201.32" y="211.34" width="16.52" height="10.86" fill="#f50000"/>
<rect x="217.44" y="211.34" width="16.52" height="10.86" fill="#f81e1e"/>
<rect x="233.56" y="211.34" width="16.52" height="10.86" fill="#faa0a0"/>
<rect x="249.68" y="211.34" width="16.52" height="10.86" fill="#ffe0e0"/>
<rect x="265.80" y="211.34" width="16.52" height="10.86" fill="#fefbfa"/>
<rect x="281.92" y="211.34" width="16.52" height="10.86" fill="#ffe9e9"/>
<rect x="298.04" y="211.34" width="16.52" height="10.86" fill="#8ce6fa"/>
<rect x="314.16" y="211.34" width="16.52" height="10.86" fill="#fff0f0"/>
<rect x="330.28" y="211.34" width="16.52" height="10.86" fill="#fefbfa"/>
<rect x="346.40" y="211.34" width="16.52" height="10.86" fill="#fefbfa"/>
<rect x="362.52" y="211.34" width="16.52" height="10.86" fill="#00cdf8"/>
<rect x="378.64" y="211.34" width="16.52" height="10.86" fill="#fef7f6"/>
<rect x="394.76" y="211.34" width="16.52" height="10.86" fill="#fef7f6"/>
<rect x="410.88" y="211.34" width="16.52" height="10.86" fill="#fff0f0"/>
<rect x="427.00" y="211.34" width="16.52" height="10.86" fill="#ffd2d2"/>
<rect x="443.12" y="211.34" width="16.52" height="10.86" fill="#fef7f6"/>
<rect x="459.24" y="211.34" width="16.52" height="10.86" fill="#ffe9e9"/>
<rect x="475.36" y="211.34" width="16.52" height="10.86" fill="#fef7f6"/>
<rect x="491.48" y="211.34" width="16.52" height="10.86" fill="#005fe4"/>
<rect x="24.00" y="221.80" width="16.52" height="10.86" fill="#faa0a0"/>
<rect x="40.12" y="221.80" width="16.52" height="10.86" fill="#fa9b9b"/>
<rect x="56.24" y="221.80" width="16.52" height="10.86" fill="#fa6d6d"/>
<rect x="72.36" y="221.80" width="16.52" height="10.86" fill="#fa8f8f"/>
<rect x="88.48" y="221.80" width="16.52" height="10.86" fill="#fa8f8f"/>
<rect x="104.60" y="221.80" width="16.52" height="10.86" fill="#fa7676"/>
<rect x="120.72" y="221.80" width="16.52" height="10.86" fill="#f82d2d"/>
<rect x="136.84" y="221.80" width="16.52" height="10.86" fill="#f60505"/>
<rect x="152.96" y="221.80" width="16.52" height="10.86" fill="#f96464"/>
<rect x="169.08" y="221.80" width="16.52" height="10.86" fill="#f50000"/>
<rect x="185.20" y="221.80" width="16.52" height="10.86" fill="#fff0f0"/>
<rect x="201.32" y="221.80" width="16.52" height="10.86" fill="#f50000"/>
<rect x="217.44" y="221.80" width="16.52" height="10.86" fill="#f82d2d"/>
<rect x="233.56" y="221.80" width="16.52" height="10.86" fill="#faa0a0"/>
<rect x="249.68" y="221.80" width="16.52" height="10.86" fill="#ffe0e0"/>
<rect x="265.80" y="221.80" width="16.52" height="10.86" fill="#d2f5fd"/>
<rect x="281.92" y="221.80" width="16.52" height="10.86" fill="#fff0f0"/>
<rect x="298.04" y="221.80" width="16.52" height="10.86" fill="#50dcf8"/>
<rect x="314.16" y="221.80" width="16.52" height="10.86" fill="#fefbfa"/>
<rect x="330.28" y="221.80" width="16.52" height="10.86" fill="#fefbfa"/>
<rect x="346.40" y="221.80" width="16.52" height="10.86" fill="#fefbfa"/>
<rect x="362.52" y="221.80" width="16.52" height="10.86" fill="#00cdf8"/>
<rect x="378.64" y="221.80" width="16.52" height="10.86" fill="#fff0f0"/>
<rect x="394.76" y="221.80" width="16.52" height="10.86" fill="#fff0f0"/>
<rect x="410.88" y="221.80" width="16.52" height="10.86" fill="#fff0f0"/>
<rect x="427.00" y="221.80" width="16.52" height="10.86" fill="#ffd2d2"/>
<rect x="443.12" y="221.80" width="16.52" height="10.86" fill="#fff0f0"/>
<rect x="459.24" y="221.80" width="16.52" height="10.86" fill="#ffe9e9"/>
<rect x="475.36" y="221.80" width="16.52" height="10.86" fill="#fff0f0"/>
<rect x="491.48" y="221.80" width="16.52" height="10.86" fill="#005fe4"/>
<rect x="24.00" y="232.26" width="16.52" height="10.86" fill="#d2f5fd"/>
<rect x="40.12" y="232.26" width="16.52" height="10.86" fill="#fefbfa"/>
<rect x="56.24" y="232.26" width="16.52" height="10.86" fill="#ffd2d2"/>
<rect x="72.36" y="232.26" width="16.52" height="10.86" fill="#ffe4e4"/>
<rect x="88.48" y="232.26" width="16.52" height="10.86" fill="#fff0f0"/>
<rect x="104.60" y="232.26" width="16.52" height="10.86" fill="#ffdbdb"/>
<rect x="120.72" y="232.26" width="16.52" height="10.86" fill="#fbaaaa"/>
<rect x="136.84" y="232.26" width="16.52" height="10.86" fill="#faa0a0"/>
<rect x="152.96" y="232.26" width="16.52" height="10.86" fill="#fecaca"/>
<rect x="169.08" y="232.26" width="16.52" height="10.86" fill="#fa8787"/>
<rect x="185.20" y="232.26" width="16.52" height="10.86" fill="#00cdf8"/>
<rect x="201.32" y="232.26" width="16.52" height="10.86" fill="#f81e1e"/>
<rect x="217.44" y="232.26" width="16.52" height="10.86" fill="#faa0a0"/>
<rect x="233.56" y="232.26" width="16.52" height="10.86" fill="#fff0f0"/>
<rect x="249.68" y="232.26" width="16.52" height="10.86" fill="#8ce6fa"/>
<rect x="265.80" y="232.26" width="16.52" height="10.86" fill="#00c4f7"/>
<rect x="281.92" y="232.26" width="16.52" height="10.86" fill="#50dcf8"/>
<rect x="298.04" y="232.26" width="16.52" height="10.86" fill="#0078eb"/>
<rect x="314.16" y="232.26" width="16.52" height="10.86" fill="#00cdf8"/>
<rect x="330.28" y="232.26" width="16.52" height="10.86" fill="#00cdf8"/>
<rect x="346.40" y="232.26" width="16.52" height="10.86" fill="#00cdf8"/>
<rect x="362.52" y="232.26" width="16.52" height="10.86" fill="#fefbfa"/>
<rect x="378.64" y="232.26" width="16.52" height="10.86" fill="#fa8f8f"/>
<rect x="394.76" y="232.26" width="16.52" height="10.86" fill="#fa8f8f"/>
<rect x="410.88" y="232.26" width="16.52" height="10.86" fill="#fa8787"/>
<rect x="427.00" y="232.26" width="16.52" height="10.86" fill="#f95e5e"/>
<rect x="443.12" y="232.26" width="16.52" height="10.86" fill="#fa8787"/>
<rect x="459.24" y="232.26" width="16.52" height="10.86" fill="#fa7e7e"/>
<rect x="475.36" y="232.26" width="16.52" height="10.86" fill="#fa9393"/>
<rect x="491.48" y="232.26" width="16.52" height="10.86" fill="#28d6f8"/>
<rect x="24.00" y="242.72" width="16.52" height="10.86" fill="#faa0a0"/>
<rect x="40.12" y="242.72" width="16.52" height="10.86" fill="#fa9b9b"/>
<rect x="56.24" y="242.72" width="16.52" height="10.86" fill="#fa6d6d"/>
<rect x="72.36" y="242.72" width="16.52" height="10.86" fill="#fa8f8f"/>
<rect x="88.48" y="242.72" width="16.52" height="10.86" fill="#fa8f8f"/>
<rect x="104.60" y="242.72" width="16.52" height="10.86" fill="#fa7e7e"/>
<rect x="120.72" y="242.72" width="16.52" height="10.86" fill="#f82d2d"/>
<rect x="136.84" y="242.72" width="16.52" height="10.86" fill="#f60505"/>
<rect x="152.96" y="242.72" width="16.52" height="10.86" fill="#f96464"/>
<rect x="169.08" y="242.72" width="16.52" height="10.86" fill="#f50000"/>
<rect x="185.20" y="242.72" width="16.52" height="10.86" fill="#fff0f0"/>
<rect x="201.32" y="242.72" width="16.52" height="10.86" fill="#f50000"/>
<rect x="217.44" y="242.72" width="16.52" height="10.86" fill="#f81e1e"/>
<rect x="233.56" y="242.72" width="16.52" height="10.86" fill="#fa9b9b"/>
<rect x="249.68" y="242.72" width="16.52" height="10.86" fill="#ffdbdb"/>
<rect x="265.80" y="242.72" width="16.52" height="10.86" fill="#d2f5fd"/>
<rect x="281.92" y="242.72" width="16.52" height="10.86" fill="#ffe9e9"/>
<rect x="298.04" y="242.72" width="16.52" height="10.86" fill="#68e0f9"/>
<rect x="314.16" y="242.72" width="16.52" height="10.86" fill="#fff0f0"/>
<rect x="330.28" y="242.72" width="16.52" height="10.86" fill="#fef7f6"/>
<rect x="346.40" y="242.72" width="16.52" height="10.86" fill="#fff0f0"/>
<rect x="362.52" y="242.72" width="16.52" height="10.86" fill="#fa8f8f"/>
<rect x="378.64" y="242.72" width="16.52" height="10.86" fill="#fefbfa"/>
<rect x="394.76" y="242.72" width="16.52" height="10.86" fill="#fff0f0"/>
<rect x="410.88" y="242.72" width="16.52" height="10.86" fill="#fff0f0"/>
<rect x="427.00" y="242.72" width="16.52" height="10.86" fill="#ffd2d2"/>
<rect x="443.12" y="242.72" width="16.52" height="10.86" fill="#fff0f0"/>
<rect x="459.24" y="242.72" width="16.52" height="10.86" fill="#ffe9e9"/>
<rect x="475.36" y="242.72" width="16.52" height="10.86" fill="#fef7f6"/>
<rect x="491.48" y="242.72" width="16.52" height="10.86" fill="#005fe4"/>
<rect x="24.00" y="253.18" width="16.52" height="10.86" fill="#fa9595"/>
<rect x="40.12" y="253.18" width="16.52" height="10.86" fill="#fa8f8f"/>
<rect x="56.24" y="253.18" width="16.52" height="10.86" fill="#f95e5e"/>
<rect x="72.36" y="253.18" width="16.52" height="10.86" fill="#fa7e7e"/>
<rect x="88.48" y="253.18" width="16.52" height="10.86" fill="#fa7e7e"/>
<rect x="104.60" y="253.18" width="16.52" height="10.86" fill="#fa6d6d"/>
<rect x="120.72" y="253.18" width="16.52" height="10.86" fill="#f81e1e"/>
<rect x="136.84" y="253.18" width="16.52" height="10.86" fill="#f50000"/>
<rect x="152.96" y="253.18" width="16.52" height="10.86" fill="#f85858"/>
<rect x="169.08" y="253.18" width="16.52" height="10.86" fill="#f50000"/>
<rect x="185.20" y="253.18" width="16.52" height="10.86" fill="#ffe9e9"/>
<rect x="201.32" y="253.18" width="16.52" height="10.86" fill="#f50000"/>
<rect x="217.44" y="253.18" width="16.52" height="10.86" fill="#f71616"/>
<rect x="233.56" y="253.18" width="16.52" height="10.86" fill="#fa9595"/>
<rect x="249.68" y="253.18" width="16.52" height="10.86" fill="#ffd2d2"/>
<rect x="265.80" y="253.18" width="16.52" height="10.86" fill="#fefbfa"/>
<rect x="281.92" y="253.18" width="16.52" height="10.86" fill="#ffe4e4"/>
<rect x="298.04" y="253.18" width="16.52" height="10.86" fill="#8ce6fa"/>
<rect x="314.16" y="253.18" width="16.52" height="10.86" fill="#fff0f0"/>
<rect x="330.28" y="253.18" width="16.52" height="10.86" fill="#fef7f6"/>
<rect x="346.40" y="253.18" width="16.52" height="10.86" fill="#fff0f0"/>
<rect x="362.52" y="253.18" width="16.52" height="10.86" fill="#fa8f8f"/>
<rect x="378.64" y="253.18" width="16.52" height="10.86" fill="#fff0f0"/>
<rect x="394.76" y="253.18" width="16.52" height="10.86" fill="#fefbfa"/>
<rect x="410.88" y="253.18" width="16.52" height="10.86" fill="#fef7f6"/>
<rect x="427.00" y="253.18" width="16.52" height="10.86" fill="#ffdbdb"/>
<rect x="443.12" y="253.18" width="16.52" height="10.86" fill="#fefbfa"/>
<rect x="459.24" y="253.18" width="16.52" height="10.86" fill="#fff0f0"/>
<rect x="475.36" y="253.18" width="16.52" height="10.86" fill="#fefbfa"/>
<rect x="491.48" y="253.18" width="16.52" height="10.86" fill="#005fe4"/>
<rect x="24.00" y="263.64" width="16.52" height="10.86" fill="#fa8f8f"/>
<rect x="40.12" y="263.64" width="16.52" height="10.86" fill="#fa8787"/>
<rect x="56.24" y="263.64" width="16.52" height="10.86" fill="#f84b4b"/>
<rect x="72.36" y="263.64" width="16.52" height="10.86" fill="#fa7676"/>
<rect x="88.48" y="263.64" width="16.52" height="10.86" fill="#fa7676"/>
<rect x="104.60" y="263.64" width="16.52" height="10.86" fill="#f85858"/>
<rect x="120.72" y="263.64" width="16.52" height="10.86" fill="#f71616"/>
<rect x="136.84" y="263.64" width="16.52" height="10.86" fill="#f50000"/>
<rect x="152.96" y="263.64" width="16.52" height="10.86" fill="#f96464"/>
<rect x="169.08" y="263.64" width="16.52" height="10.86" fill="#f50000"/>
<rect x="185.20" y="263.64" width="16.52" height="10.86" fill="#ffe4e4"/>
<rect x="201.32" y="263.64" width="16.52" height="10.86" fill="#f50000"/>
<rect x="217.44" y="263.64" width="16.52" height="10.86" fill="#f82525"/>
<rect x="233.56" y="263.64" width="16.52" height="10.86" fill="#fa9595"/>
<rect x="249.68" y="263.64" width="16.52" height="10.86" fill="#fecaca"/>
<rect x="265.80" y="263.64" width="16.52" height="10.86" fill="#fefbfa"/>
<rect x="281.92" y="263.64" width="16.52" height="10.86" fill="#ffe4e4"/>
<rect x="298.04" y="263.64" width="16.52" height="10.86" fill="#8ce6fa"/>
<rect x="314.16" y="263.64" width="16.52" height="10.86" fill="#fff0f0"/>
<rect x="330.28" y="263.64" width="16.52" height="10.86" fill="#fff0f0"/>
<rect x="346.40" y="263.64" width="16.52" height="10.86" fill="#fff0f0"/>
<rect x="362.52" y="263.64" width="16.52" height="10.86" fill="#fa8787"/>
<rect x="378.64" y="263.64" width="16.52" height="10.86" fill="#fff0f0"/>
<rect x="394.76" y="263.64" width="16.52" height="10.86" fill="#fef7f6"/>
<rect x="410.88" y="263.64" width="16.52" height="10.86" fill="#fefbfa"/>
<rect x="427.00" y="263.64" width="16.52" height="10.86" fill="#ffd2d2"/>
<rect x="443.12" y="263.64" width="16.52" height="10.86" fill="#fefbfa"/>
<rect x="459.24" y="263.64" width="16.52" height="10.86" fill="#ffe9e9"/>
<rect x="475.36" y="263.64" width="16.52" height="10.86" fill="#fefbfa"/>
<rect x="491.48" y="263.64" width="16.52" height="10.86" fill="#005fe4"/>
<rect x="24.00" y="274.10" width="16.52" height="10.86" fill="#fa7676"/>
<rect x="40.12" y="274.10" width="16.52" height="10.86" fill="#f96464"/>
<rect x="56.24" y="274.10" width="16.52" height="10.86" fill="#f81e1e"/>
<rect x="72.36" y="274.10" width="16.52" height="10.86" fill="#f85858"/>
<rect x="88.48" y="274.10" width="16.52" height="10.86" fill="#f85858"/>
<rect x="104.60" y="274.10" width="16.52" height="10.86" fill="#f83434"/>
<rect x="120.72" y="274.10" width="16.52" height="10.86" fill="#f50000"/>
<rect x="136.84" y="274.10" width="16.52" height="10.86" fill="#f50000"/>
<rect x="152.96" y="274.10" width="16.52" height="10.86" fill="#f82d2d"/>
<rect x="169.08" y="274.10" width="16.52" height="10.86" fill="#f50000"/>
<rect x="185.20" y="274.10" width="16.52" height="10.86" fill="#fecaca"/>
<rect x="201.32" y="274.10" width="16.52" height="10.86" fill="#e80000"/>
<rect x="217.44" y="274.10" width="16.52" height="10.86" fill="#f60202"/>
<rect x="233.56" y="274.10" width="16.52" height="10.86" fill="#f96464"/>
<rect x="249.68" y="274.10" width="16.52" height="10.86" fill="#fbaaaa"/>
<rect x="265.80" y="274.10" width="16.52" height="10.86" fill="#ffdbdb"/>
<rect x="281.92" y="274.10" width="16.52" height="10.86" fill="#fdc3c3"/>
<rect x="298.04" y="274.10" width="16.52" height="10.86" fill="#d2f5fd"/>
<rect x="314.16" y="274.10" width="16.52" height="10.86" fill="#ffd2d2"/>
<rect x="330.28" y="274.10" width="16.52" height="10.86" fill="#ffd2d2"/>
<rect x="346.40" y="274.10" width="16.52" height="10.86" fill="#ffd2d2"/>
<rect x="362.52" y="274.10" width="16.52" height="10.86" fill="#f95e5e"/>
<rect x="378.64" y="274.10" width="16.52" height="10.86" fill="#ffd2d2"/>
<rect x="394.76" y="274.10" width="16.52" height="10.86" fill="#ffdbdb"/>
<rect x="410.88" y="274.10" width="16.52" height="10.86" fill="#ffd2d2"/>
<rect x="427.00" y="274.10" width="16.52" height="10.86" fill="#fefbfa"/>
<rect x="443.12" y="274.10" width="16.52" height="10.86" fill="#a0eafb"/>
<rect x="459.24" y="274.10" width="16.52" height="10.86" fill="#a0eafb"/>
<rect x="475.36" y="274.10" width="16.52" height="10.86" fill="#8ce6fa"/>
<rect x="491.48" y="274.10" width="16.52" height="10.86" fill="#002dd7"/>
<rect x="24.00" y="284.56" width="16.52" height="10.86" fill="#fa9b9b"/>
<rect x="40.12" y="284.56" width="16.52" height="10.86" fill="#fa9595"/>
<rect x="56.24" y="284.56" width="16.52" height="10.86" fill="#f96464"/>
<rect x="72.36" y="284.56" width="16.52" height="10.86" fill="#fa8f8f"/>
<rect x="88.48" y="284.56" width="16.52" height="10.86" fill="#fa8f8f"/>
<rect x="104.60" y="284.56" width="16.52" height="10.86" fill="#fa7676"/>
<rect x="120.72" y="284.56" width="16.52" height="10.86" fill="#f81e1e"/>
<rect x="136.84" y="284.56" width="16.52" height="10.86" fill="#f50000"/>
<rect x="152.96" y="284.56" width="16.52" height="10.86" fill="#f96464"/>
<rect x="169.08" y="284.56" width="16.52" height="10.86" fill="#f50000"/>
<rect x="185.20" y="284.56" width="16.52" height="10.86" fill="#ffe9e9"/>
<rect x="201.32" y="284.56" width="16.52" height="10.86" fill="#f50000"/>
<rect x="217.44" y="284.56" width="16.52" height="10.86" fill="#f82525"/>
<rect x="233.56" y="284.56" width="16.52" height="10.86" fill="#fa9595"/>
<rect x="249.68" y="284.56" width="16.52" height="10.86" fill="#fecaca"/>
<rect x="265.80" y="284.56" width="16.52" height="10.86" fill="#fefbfa"/>
<rect x="281.92" y="284.56" width="16.52" height="10.86" fill="#ffe0e0"/>
<rect x="298.04" y="284.56" width="16.52" height="10.86" fill="#8ce6fa"/>
<rect x="314.16" y="284.56" width="16.52" height="10.86" fill="#fff0f0"/>
<rect x="330.28" y="284.56" width="16.52" height="10.86" fill="#fef7f6"/>
<rect x="346.40" y="284.56" width="16.52" height="10.86" fill="#fff0f0"/>
<rect x="362.52" y="284.56" width="16.52" height="10.86" fill="#fa8787"/>
<rect x="378.64" y="284.56" width="16.52" height="10.86" fill="#fff0f0"/>
<rect x="394.76" y="284.56" width="16.52" height="10.86" fill="#fefbfa"/>
<rect x="410.88" y="284.56" width="16.52" height="10.86" fill="#fefbfa"/>
<rect x="427.00" y="284.56" width="16.52" height="10.86" fill="#a0eafb"/>
<rect x="443.12" y="284.56" width="16.52" height="10.86" fill="#fefbfa"/>
<rect x="459.24" y="284.56" width="16.52" height="10.86" fill="#ffe9e9"/>
<rect x="475.36" y="284.56" width="16.52" height="10.86" fill="#fefbfa"/>
<rect x="491.48" y="284.56" width="16.52" height="10.86" fill="#005fe4"/>
<rect x="24.00" y="295.02" width="16.52" height="10.86" fill="#fa9595"/>
<rect x="40.12" y="295.02" width="16.52" height="10.86" fill="#fa8f8f"/>
<rect x="56.24" y="295.02" width="16.52" height="10.86" fill="#f85858"/>
<rect x="72.36" y="295.02" width="16.52" height="10.86" fill="#fa8787"/>
<rect x="88.48" y="295.02" width="16.52" height="10.86" fill="#fa8787"/>
<rect x="104.60" y="295.02" width="16.52" height="10.86" fill="#f96464"/>
<rect x="120.72" y="295.02" width="16.52" height="10.86" fill="#f70d0d"/>
<rect x="136.84" y="295.02" width="16.52" height="10.86" fill="#f50000"/>
<rect x="152.96" y="295.02" width="16.52" height="10.86" fill="#f85858"/>
<rect x="169.08" y="295.02" width="16.52" height="10.86" fill="#f50000"/>
<rect x="185.20" y="295.02" width="16.52" height="10.86" fill="#ffe4e4"/>
<rect x="201.32" y="295.02" width="16.52" height="10.86" fill="#f50000"/>
<rect x="217.44" y="295.02" width="16.52" height="10.86" fill="#f81e1e"/>
<rect x="233.56" y="295.02" width="16.52" height="10.86" fill="#fa8f8f"/>
<rect x="249.68" y="295.02" width="16.52" height="10.86" fill="#fdc3c3"/>
<rect x="265.80" y="295.02" width="16.52" height="10.86" fill="#fff4f4"/>
<rect x="281.92" y="295.02" width="16.52" height="10.86" fill="#ffdbdb"/>
<rect x="298.04" y="295.02" width="16.52" height="10.86" fill="#8ce6fa"/>
<rect x="314.16" y="295.02" width="16.52" height="10.86" fill="#ffe9e9"/>
<rect x="330.28" y="295.02" width="16.52" height="10.86" fill="#ffe9e9"/>
<rect x="346.40" y="295.02" width="16.52" height="10.86" fill="#ffe9e9"/>
<rect x="362.52" y="295.02" width="16.52" height="10.86" fill="#fa7e7e"/>
<rect x="378.64" y="295.02" width="16.52" height="10.86" fill="#ffe9e9"/>
<rect x="394.76" y="295.02" width="16.52" height="10.86" fill="#fff0f0"/>
<rect x="410.88" y="295.02" width="16.52" height="10.86" fill="#ffe9e9"/>
<rect x="427.00" y="295.02" width="16.52" height="10.86" fill="#a0eafb"/>
<rect x="443.12" y="295.02" width="16.52" height="10.86" fill="#ffe9e9"/>
<rect x="459.24" y="295.02" width="16.52" height="10.86" fill="#fefbfa"/>
<rect x="475.36" y="295.02" width="16.52" height="10.86" fill="#e1f8fe"/>
<rect x="491.48" y="295.02" width="16.52" height="10.86" fill="#0035d9"/>
<rect x="24.00" y="305.48" width="16.52" height="10.86" fill="#fa9b9b"/>
<rect x="40.12" y="305.48" width="16.52" height="10.86" fill="#fa9b9b"/>
<rect x="56.24" y="305.48" width="16.52" height="10.86" fill="#fa6d6d"/>
<rect x="72.36" y="305.48" width="16.52" height="10.86" fill="#fa8f8f"/>
<rect x="88.48" y="305.48" width="16.52" height="10.86" fill="#fa8f8f"/>
<rect x="104.60" y="305.48" width="16.52" height="10.86" fill="#fa7676"/>
<rect x="120.72" y="305.48" width="16.52" height="10.86" fill="#f81e1e"/>
<rect x="136.84" y="305.48" width="16.52" height="10.86" fill="#f50000"/>
<rect x="152.96" y="305.48" width="16.52" height="10.86" fill="#f96464"/>
<rect x="169.08" y="305.48" width="16.52" height="10.86" fill="#f50000"/>
<rect x="185.20" y="305.48" width="16.52" height="10.86" fill="#ffe4e4"/>
<rect x="201.32" y="305.48" width="16.52" height="10.86" fill="#f50000"/>
<rect x="217.44" y="305.48" width="16.52" height="10.86" fill="#f82d2d"/>
<rect x="233.56" y="305.48" width="16.52" height="10.86" fill="#fa9b9b"/>
<rect x="249.68" y="305.48" width="16.52" height="10.86" fill="#fecaca"/>
<rect x="265.80" y="305.48" width="16.52" height="10.86" fill="#d2f5fd"/>
<rect x="281.92" y="305.48" width="16.52" height="10.86" fill="#ffe9e9"/>
<rect x="298.04" y="305.48" width="16.52" height="10.86" fill="#8ce6fa"/>
<rect x="314.16" y="305.48" width="16.52" height="10.86" fill="#fff0f0"/>
<rect x="330.28" y="305.48" width="16.52" height="10.86" fill="#fef7f6"/>
<rect x="346.40" y="305.48" width="16.52" height="10.86" fill="#fff0f0"/>
<rect x="362.52" y="305.48" width="16.52" height="10.86" fill="#fa9393"/>
<rect x="378.64" y="305.48" width="16.52" height="10.86" fill="#fef7f6"/>
<rect x="394.76" y="305.48" width="16.52" height="10.86" fill="#fefbfa"/>
<rect x="410.88" y="305.48" width="16.52" height="10.86" fill="#fefbfa"/>
<rect x="427.00" y="305.48" width="16.52" height="10.86" fill="#8ce6fa"/>
<rect x="443.12" y="305.48" width="16.52" height="10.86" fill="#fefbfa"/>
<rect x="459.24" y="305.48" width="16.52" height="10.86" fill="#e1f8fe"/>
<rect x="475.36" y="305.48" width="16.52" height="10.86" fill="#fefbfa"/>
<rect x="491.48" y="305.48" width="16.52" height="10.86" fill="#005fe4"/>
<rect x="24.00" y="315.94" width="16.52" height="10.86" fill="#00cdf8"/>
<rect x="40.12" y="315.94" width="16.52" height="10.86" fill="#00cdf8"/>
<rect x="56.24" y="315.94" width="16.52" height="10.86" fill="#80e4fa"/>
<rect x="72.36" y="315.94" width="16.52" height="10.86" fill="#0dd0f8"/>
<rect x="88.48" y="315.94" width="16.52" height="10.86" fill="#0dd0f8"/>
<rect x="104.60" y="315.94" width="16.52" height="10.86" fill="#80e4fa"/>
<rect x="120.72" y="315.94" width="16.52" height="10.86" fill="#e1f8fe"/>
<rect x="136.84" y="315.94" width="16.52" height="10.86" fill="#fff0f0"/>
<rect x="152.96" y="315.94" width="16.52" height="10.86" fill="#8ce6fa"/>
<rect x="169.08" y="315.94" width="16.52" height="10.86" fill="#fdc3c3"/>
<rect x="185.20" y="315.94" width="16.52" height="10.86" fill="#005fe4"/>
<rect x="201.32" y="315.94" width="16.52" height="10.86" fill="#fcb6b6"/>
<rect x="217.44" y="315.94" width="16.52" height="10.86" fill="#d2f5fd"/>
<rect x="233.56" y="315.94" width="16.52" height="10.86" fill="#00cdf8"/>
<rect x="249.68" y="315.94" width="16.52" height="10.86" fill="#0083ed"/>
<rect x="265.80" y="315.94" width="16.52" height="10.86" fill="#0057e2"/>
<rect x="281.92" y="315.94" width="16.52" height="10.86" fill="#0069e7"/>
<rect x="298.04" y="315.94" width="16.52" height="10.86" fill="#0014d2"/>
<rect x="314.16" y="315.94" width="16.52" height="10.86" fill="#005fe4"/>
<rect x="330.28" y="315.94" width="16.52" height="10.86" fill="#005fe4"/>
<rect x="346.40" y="315.94" width="16.52" height="10.86" fill="#005fe4"/>
<rect x="362.52" y="315.94" width="16.52" height="10.86" fill="#28d6f8"/>
<rect x="378.64" y="315.94" width="16.52" height="10.86" fill="#005fe4"/>
<rect x="394.76" y="315.94" width="16.52" height="10.86" fill="#005fe4"/>
<rect x="410.88" y="315.94" width="16.52" height="10.86" fill="#005fe4"/>
<rect x="427.00" y="315.94" width="16.52" height="10.86" fill="#002dd7"/>
<rect x="443.12" y="315.94" width="16.52" height="10.86" fill="#005fe4"/>
<rect x="459.24" y="315.94" width="16.52" height="10.86" fill="#0035d9"/>
<rect x="475.36" y="315.94" width="16.52" height="10.86" fill="#005fe4"/>
<rect x="491.48" y="315.94" width="16.52" height="10.86" fill="#fefbfa"/>
</g>
<line x1="24.0" y1="12.2" x2="507.6" y2="12.2" stroke="#000" stroke-opacity="0.35" stroke-width="1"/>
<line x1="23.6" y1="12" x2="23.6" y2="326.6" stroke="#000" stroke-opacity="0.15" stroke-width="0.8"/>
<line x1="24" y1="326.1" x2="507.6" y2="326.1" stroke="#000" stroke-opacity="0.2" stroke-width="0.8"/>
<line x1="507.2" y1="12" x2="507.2" y2="326.6" stroke="#000" stroke-opacity="0.2" stroke-width="0.8"/>
<rect x="248.90" y="11.80" width="258.50" height="157.80" fill="none" stroke="#000" stroke-width="2.4" stroke-dasharray="7 2.2 1.6 2.2"/>
<rect x="169.80" y="11.80" width="62.40" height="136.50" fill="none" stroke="#000" stroke-width="2.5"/>
<rect x="169.80" y="107.00" width="337.60" height="41.30" fill="none" stroke="#000" stroke-width="2.5"/>
<rect x="185.30" y="11.80" width="15.60" height="115.00" fill="none" stroke="#000" stroke-width="2.6" stroke-dasharray="2.3 1.6"/>
<rect x="185.30" y="116.80" width="322.10" height="10.00" fill="none" stroke="#000" stroke-width="2.6" stroke-dasharray="2.3 1.6"/>
<g shape-rendering="crispEdges">
<rect x="519.30" y="12.20" width="15.00" height="5.31" fill="#ef0000"/>
<rect x="519.30" y="17.11" width="15.00" height="5.31" fill="#ef0000"/>
<rect x="519.30" y="22.02" width="15.00" height="5.31" fill="#ef0000"/>
<rect x="519.30" y="26.93" width="15.00" height="5.31" fill="#f00000"/>
<rect x="519.30" y="31.84" width="15.00" height="5.31" fill="#f00000"/>
<rect x="519.30" y="36.75" width="15.00" height="5.31" fill="#f00000"/>
<rect x="519.30" y="41.66" width="15.00" height="5.31" fill="#f00000"/>
<rect x="519.30" y="46.57" width="15.00" height="5.31" fill="#f10000"/>
<rect x="519.30" y="51.47" width="15.00" height="5.31" fill="#f10000"/>
<rect x="519.30" y="56.38" width="15.00" height="5.31" fill="#f10000"/>
<rect x="519.30" y="61.29" width="15.00" height="5.31" fill="#f10000"/>
<rect x="519.30" y="66.20" width="15.00" height="5.31" fill="#f20000"/>
<rect x="519.30" y="71.11" width="15.00" height="5.31" fill="#f20000"/>
<rect x="519.30" y="76.02" width="15.00" height="5.31" fill="#f20000"/>
<rect x="519.30" y="80.93" width="15.00" height="5.31" fill="#f20000"/>
<rect x="519.30" y="85.84" width="15.00" height="5.31" fill="#f30000"/>
<rect x="519.30" y="90.75" width="15.00" height="5.31" fill="#f30000"/>
<rect x="519.30" y="95.66" width="15.00" height="5.31" fill="#f30000"/>
<rect x="519.30" y="100.57" width="15.00" height="5.31" fill="#f40000"/>
<rect x="519.30" y="105.48" width="15.00" height="5.31" fill="#f40000"/>
<rect x="519.30" y="110.39" width="15.00" height="5.31" fill="#f40000"/>
<rect x="519.30" y="115.30" width="15.00" height="5.31" fill="#f40000"/>
<rect x="519.30" y="120.21" width="15.00" height="5.31" fill="#f50000"/>
<rect x="519.30" y="125.12" width="15.00" height="5.31" fill="#f50000"/>
<rect x="519.30" y="130.02" width="15.00" height="5.31" fill="#f60303"/>
<rect x="519.30" y="134.93" width="15.00" height="5.31" fill="#f70808"/>
<rect x="519.30" y="139.84" width="15.00" height="5.31" fill="#f90e0e"/>
<rect x="519.30" y="144.75" width="15.00" height="5.31" fill="#fa1313"/>
<rect x="519.30" y="149.66" width="15.00" height="5.31" fill="#f91b1b"/>
<rect x="519.30" y="154.57" width="15.00" height="5.31" fill="#f92222"/>
<rect x="519.30" y="159.48" width="15.00" height="5.31" fill="#f82929"/>
<rect x="519.30" y="164.39" width="15.00" height="5.31" fill="#f83131"/>
<rect x="519.30" y="169.30" width="15.00" height="5.31" fill="#f83939"/>
<rect x="519.30" y="174.21" width="15.00" height="5.31" fill="#f74040"/>
<rect x="519.30" y="179.12" width="15.00" height="5.31" fill="#f74848"/>
<rect x="519.30" y="184.03" width="15.00" height="5.31" fill="#f75050"/>
<rect x="519.30" y="188.94" width="15.00" height="5.31" fill="#f85959"/>
<rect x="519.30" y="193.85" width="15.00" height="5.31" fill="#f86363"/>
<rect x="519.30" y="198.76" width="15.00" height="5.31" fill="#f96c6c"/>
<rect x="519.30" y="203.67" width="15.00" height="5.31" fill="#fa7676"/>
<rect x="519.30" y="208.57" width="15.00" height="5.31" fill="#fa8080"/>
<rect x="519.30" y="213.48" width="15.00" height="5.31" fill="#fa8a8a"/>
<rect x="519.30" y="218.39" width="15.00" height="5.31" fill="#fb9494"/>
<rect x="519.30" y="223.30" width="15.00" height="5.31" fill="#fb9f9f"/>
<rect x="519.30" y="228.21" width="15.00" height="5.31" fill="#fba8a8"/>
<rect x="519.30" y="233.12" width="15.00" height="5.31" fill="#fcb1b1"/>
<rect x="519.30" y="238.03" width="15.00" height="5.31" fill="#fdbaba"/>
<rect x="519.30" y="242.94" width="15.00" height="5.31" fill="#fdc4c4"/>
<rect x="519.30" y="247.85" width="15.00" height="5.31" fill="#ffcfcf"/>
<rect x="519.30" y="252.76" width="15.00" height="5.31" fill="#ffd9d9"/>
<rect x="519.30" y="257.67" width="15.00" height="5.31" fill="#ffe3e3"/>
<rect x="519.30" y="262.58" width="15.00" height="5.31" fill="#fff2f2"/>
<rect x="519.30" y="267.49" width="15.00" height="5.31" fill="#fbfcfd"/>
<rect x="519.30" y="272.40" width="15.00" height="5.31" fill="#daf7fc"/>
<rect x="519.30" y="277.31" width="15.00" height="5.31" fill="#b0edfa"/>
<rect x="519.30" y="282.22" width="15.00" height="5.31" fill="#81e4fa"/>
<rect x="519.30" y="287.12" width="15.00" height="5.31" fill="#35d8fa"/>
<rect x="519.30" y="292.03" width="15.00" height="5.31" fill="#07cff8"/>
<rect x="519.30" y="296.94" width="15.00" height="5.31" fill="#00c2f6"/>
<rect x="519.30" y="301.85" width="15.00" height="5.31" fill="#00a8f1"/>
<rect x="519.30" y="306.76" width="15.00" height="5.31" fill="#007de8"/>
<rect x="519.30" y="311.67" width="15.00" height="5.31" fill="#0053de"/>
<rect x="519.30" y="316.58" width="15.00" height="5.31" fill="#0023d4"/>
<rect x="519.30" y="321.49" width="15.00" height="5.31" fill="#000acc"/>
</g>
<rect x="519.30" y="12.20" width="15.00" height="314.20" fill="none" stroke="#e0e0e0" stroke-width="0.5"/>
<line x1="519.30" y1="24.40" x2="521.80" y2="24.40" stroke="#000" stroke-opacity="0.35" stroke-width="0.8"/>
<line x1="531.80" y1="24.40" x2="534.30" y2="24.40" stroke="#000" stroke-opacity="0.35" stroke-width="0.8"/>
<line x1="519.30" y1="65.00" x2="521.80" y2="65.00" stroke="#000" stroke-opacity="0.35" stroke-width="0.8"/>
<line x1="531.80" y1="65.00" x2="534.30" y2="65.00" stroke="#000" stroke-opacity="0.35" stroke-width="0.8"/>
<line x1="519.30" y1="105.60" x2="521.80" y2="105.60" stroke="#000" stroke-opacity="0.35" stroke-width="0.8"/>
<line x1="531.80" y1="105.60" x2="534.30" y2="105.60" stroke="#000" stroke-opacity="0.35" stroke-width="0.8"/>
<line x1="519.30" y1="146.20" x2="521.80" y2="146.20" stroke="#000" stroke-opacity="0.35" stroke-width="0.8"/>
<line x1="531.80" y1="146.20" x2="534.30" y2="146.20" stroke="#000" stroke-opacity="0.35" stroke-width="0.8"/>
<line x1="519.30" y1="186.80" x2="521.80" y2="186.80" stroke="#000" stroke-opacity="0.35" stroke-width="0.8"/>
<line x1="531.80" y1="186.80" x2="534.30" y2="186.80" stroke="#000" stroke-opacity="0.35" stroke-width="0.8"/>
<line x1="519.30" y1="227.40" x2="521.80" y2="227.40" stroke="#000" stroke-opacity="0.35" stroke-width="0.8"/>
<line x1="531.80" y1="227.40" x2="534.30" y2="227.40" stroke="#000" stroke-opacity="0.35" stroke-width="0.8"/>
<line x1="519.30" y1="268.00" x2="521.80" y2="268.00" stroke="#000" stroke-opacity="0.35" stroke-width="0.8"/>
<line x1="531.80" y1="268.00" x2="534.30" y2="268.00" stroke="#000" stroke-opacity="0.35" stroke-width="0.8"/>
<line x1="519.30" y1="308.60" x2="521.80" y2="308.60" stroke="#000" stroke-opacity="0.35" stroke-width="0.8"/>
<line x1="531.80" y1="308.60" x2="534.30" y2="308.60" stroke="#000" stroke-opacity="0.35" stroke-width="0.8"/>
</g>
<g font-size="7.4" text-anchor="middle">
<text x="32.06" y="8.9">W23</text>
<text x="48.18" y="8.9">W24</text>
<text x="64.30" y="8.9">W25</text>
<text x="80.42" y="8.9">W26</text>
<text x="96.54" y="8.9">W27</text>
<text x="112.66" y="8.9">W28</text>
<text x="128.78" y="8.9">W29</text>
<text x="144.90" y="8.9">W30</text>
<text x="161.02" y="8.9">W31</text>
<text x="177.14" y="8.9">W32</text>
<text x="193.26" y="8.9">W33</text>
<text x="209.38" y="8.9">W34</text>
<text x="225.50" y="8.9">W35</text>
<text x="241.62" y="8.9">W36</text>
<text x="257.74" y="8.9">W37</text>
<text x="273.86" y="8.9">W38</text>
<text x="289.98" y="8.9">W39</text>
<text x="306.10" y="8.9">W40</text>
<text x="322.22" y="8.9">W41</text>
<text x="338.34" y="8.9">W42</text>
<text x="354.46" y="8.9">W43</text>
<text x="370.58" y="8.9">W44</text>
<text x="386.70" y="8.9">W45</text>
<text x="402.82" y="8.9">W46</text>
<text x="418.94" y="8.9">W47</text>
<text x="435.06" y="8.9">W48</text>
<text x="451.18" y="8.9">W49</text>
<text x="467.30" y="8.9">W50</text>
<text x="483.42" y="8.9">W51</text>
<text x="499.54" y="8.9">W52</text>
</g>
<g font-size="7.4" text-anchor="end">
<text x="22" y="18.95">W23</text>
<text x="22" y="29.43">W24</text>
<text x="22" y="39.91">W25</text>
<text x="22" y="50.39">W26</text>
<text x="22" y="60.87">W27</text>
<text x="22" y="71.35">W28</text>
<text x="22" y="81.83">W29</text>
<text x="22" y="92.31">W30</text>
<text x="22" y="102.79">W31</text>
<text x="22" y="113.27">W32</text>
<text x="22" y="123.75">W33</text>
<text x="22" y="134.23">W34</text>
<text x="22" y="144.71">W35</text>
<text x="22" y="155.19">W36</text>
<text x="22" y="165.67">W37</text>
<text x="22" y="176.15">W38</text>
<text x="22" y="186.63">W39</text>
<text x="22" y="197.11">W40</text>
<text x="22" y="207.59">W41</text>
<text x="22" y="218.07">W42</text>
<text x="22" y="228.55">W43</text>
<text x="22" y="239.03">W44</text>
<text x="22" y="249.51">W45</text>
<text x="22" y="259.99">W46</text>
<text x="22" y="270.47">W47</text>
<text x="22" y="280.95">W48</text>
<text x="22" y="291.43">W49</text>
<text x="22" y="301.91">W50</text>
<text x="22" y="312.39">W51</text>
<text x="22" y="322.87">W52</text>
</g>
<g font-size="7.4">
<text x="536" y="27.00">4</text>
<text x="536" y="67.60">3.5</text>
<text x="536" y="108.20">3</text>
<text x="536" y="148.80">2.5</text>
<text x="536" y="189.40">2</text>
<text x="536" y="230.00">1.5</text>
<text x="536" y="270.60">1</text>
<text x="536" y="311.20">0.5</text>
</g>
<text x="265" y="339.8" font-size="7.4" text-anchor="middle">Matrix A</text>
</svg>
</body></html>
